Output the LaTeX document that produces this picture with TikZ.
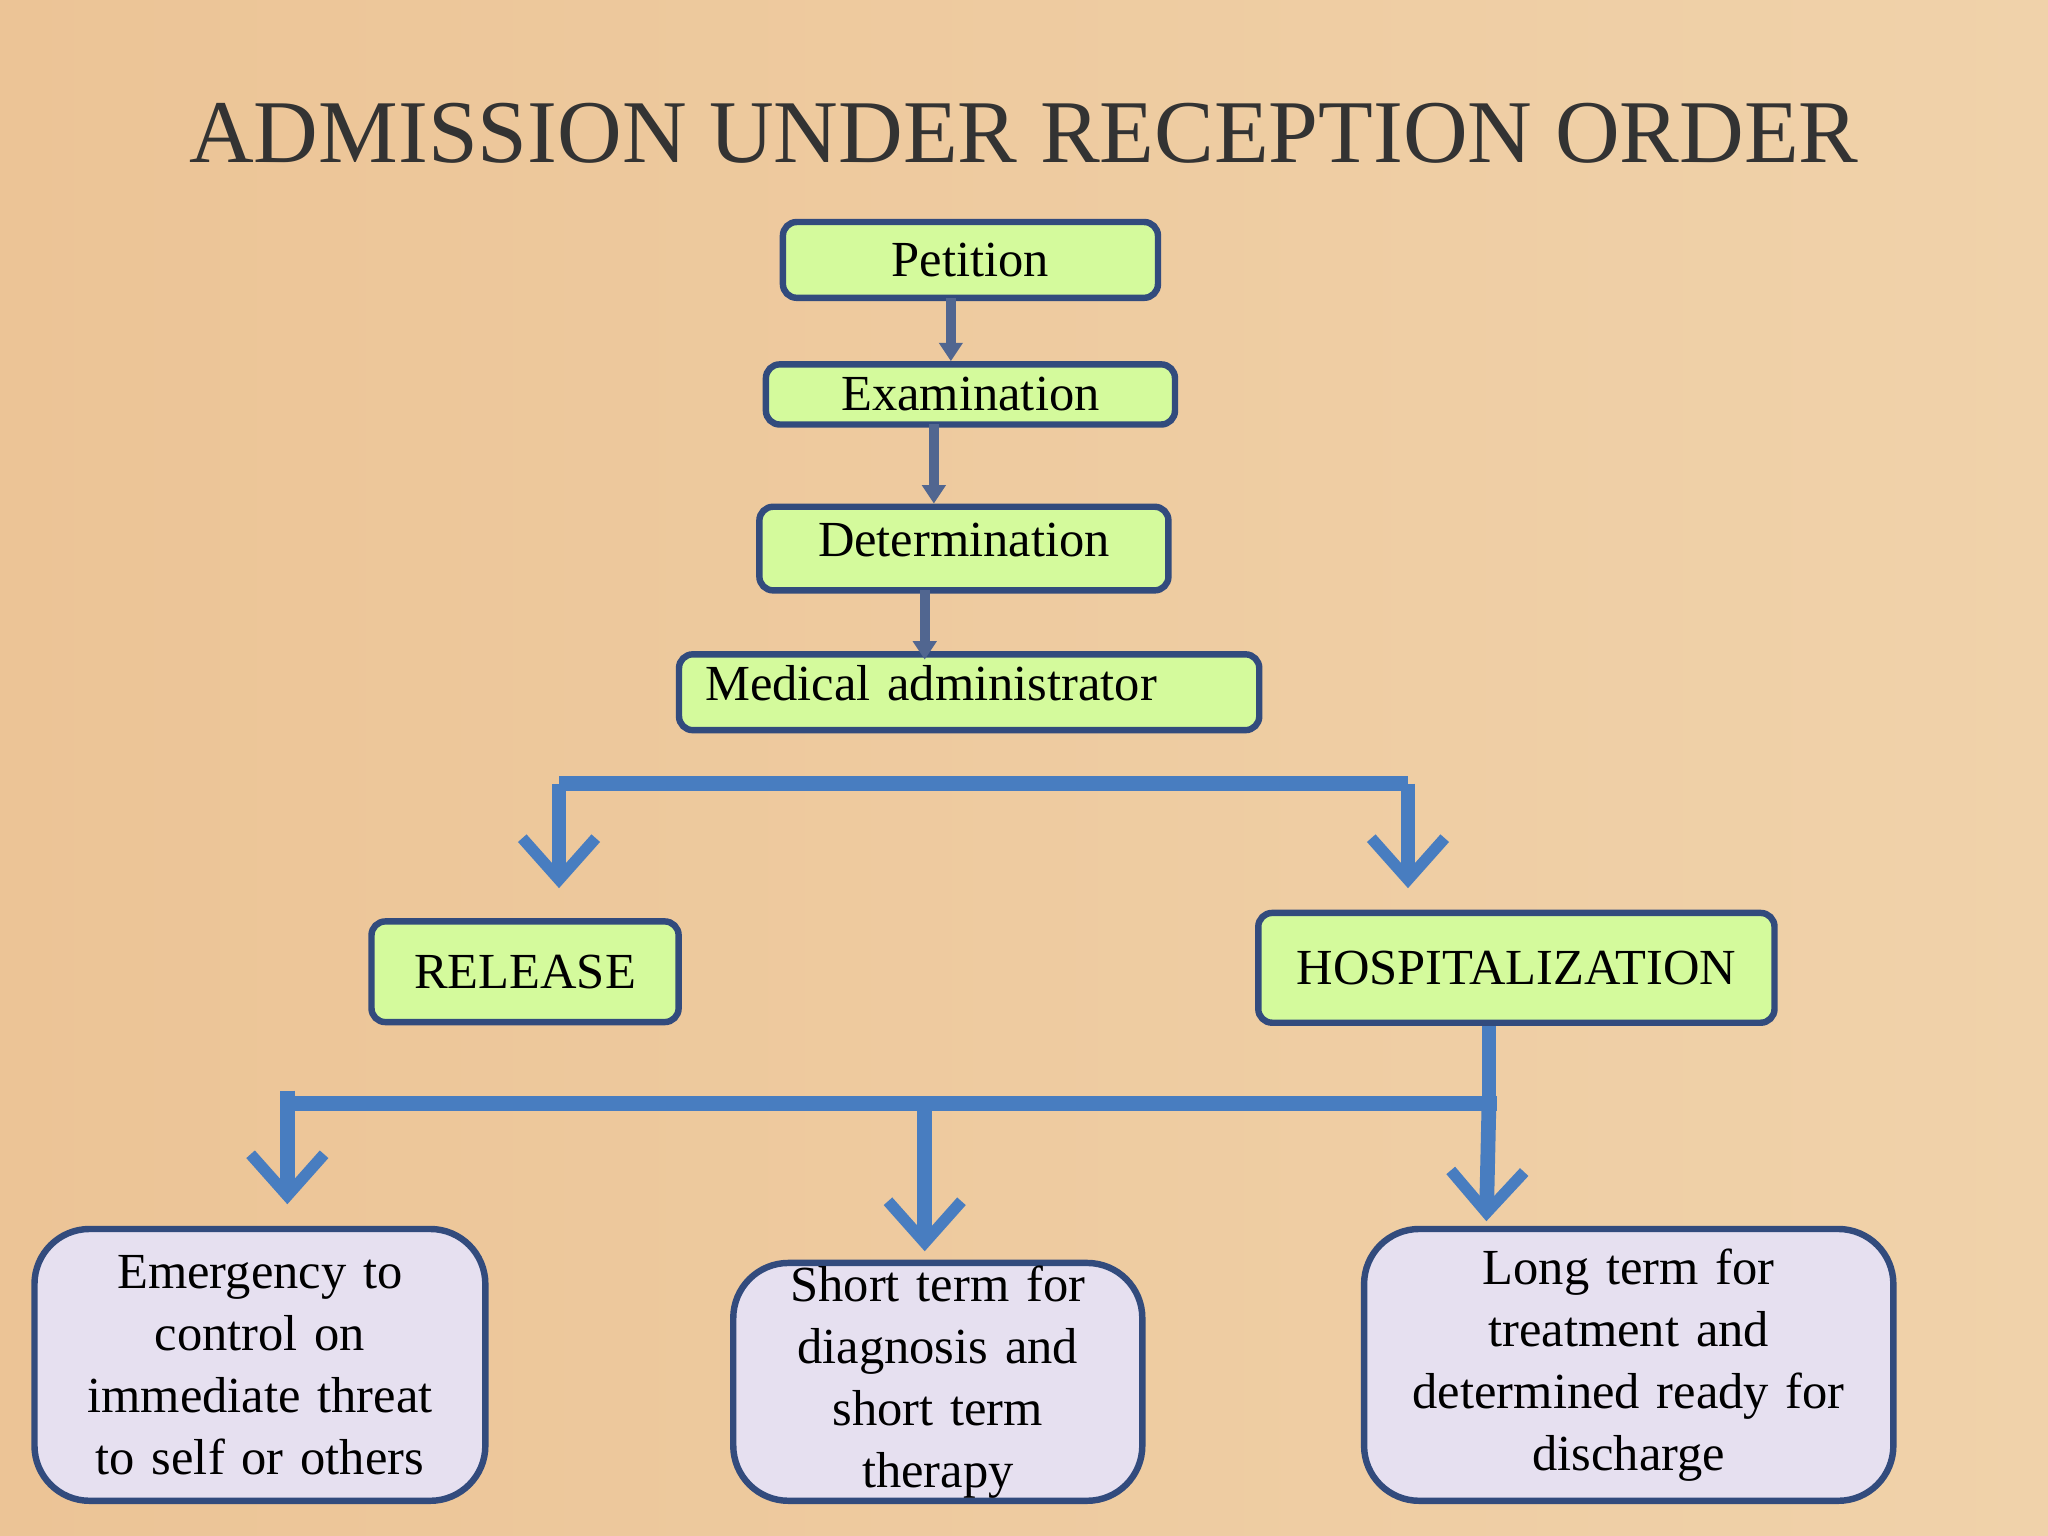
\documentclass[tikz,border=0pt]{standalone}
\usepackage{fontspec}
\setmainfont{Liberation Serif}
\usetikzlibrary{positioning, arrows.meta}
\definecolor{bgtan}{RGB}{236,196,150}
\definecolor{bglight}{RGB}{240,210,170}
\definecolor{boxgreen}{RGB}{212,250,156}
\definecolor{boxlav}{RGB}{230,224,240}
\definecolor{edgeblue}{RGB}{50,75,125}
\definecolor{lineblue}{RGB}{72,125,192}
\begin{document}
\begin{tikzpicture}[x=0.01cm, y=-0.01cm,
  stepbox/.style={draw=edgeblue, line width=1.4pt, rounded corners=3pt, fill=boxgreen, font=\fontsize{11}{12}\selectfont, inner sep=0pt},
  endbox/.style={draw=edgeblue, line width=1.4pt, rounded corners=12pt, fill=boxlav, font=\fontsize{11}{13.5}\selectfont, align=center, inner sep=0pt},
  smallarrow/.style={-{Triangle[length=4pt,width=5pt]}, line width=2.2pt, draw=edgeblue!85},
  bigarrow/.style={-{Straight Barb[length=9pt,width=16pt,line width=2.5pt]}, line width=3.2pt, draw=lineblue}
]
% background
\shade[left color=bgtan, right color=bglight] (0,0) rectangle (1568,1176);
\useasboundingbox (0,0) rectangle (1568,1176);
\node[font=\fontsize{19.5}{21}\selectfont, text=black!80] (title) at (784,102) {ADMISSION UNDER RECEPTION ORDER};

% top chain
\node[stepbox, text width=2.87cm, minimum height=0.58cm, align=center] (petition) at (743,199) {\raisebox{-3pt}{Petition}};
\node[stepbox, text width=3.13cm, minimum height=0.46cm, align=center] (exam) at (743,302) {\raisebox{-6pt}{Examination}};
\node[stepbox, text width=3.13cm, minimum height=0.64cm, align=center] (determ) at (738,420) {\raisebox{4pt}{Determination}};
\node[stepbox, text width=4.44cm, minimum height=0.58cm, align=left] (medadmin) at (742,530) {\hspace{0.2cm}\raisebox{4pt}{Medical administrator}};

\draw[smallarrow] (728,228) -- (exam.north -| 728,0);
\draw[smallarrow] (715,325) -- (determ.north -| 715,0);
\draw[smallarrow] (708,452) -- (708,505);

% outcomes
\node[stepbox, text width=2.35cm, minimum height=0.77cm, align=center] (release) at (402,744) {RELEASE};
\node[stepbox, text width=3.95cm, minimum height=0.84cm, align=center] (hosp) at (1161,741) {HOSPITALIZATION};

\coordinate (splitA) at (428,600);
\coordinate (splitB) at (1078,600);
\draw[line width=3.2pt, lineblue] (splitA) -- (splitB);
\draw[bigarrow] (splitA) -- (428,680);
\draw[bigarrow] (splitB) -- (1078,680);

% hospitalization branches
\node[endbox, text width=3.45cm, minimum height=2.08cm] (emerg) at (199,1045) {Emergency to\\control on\\immediate threat\\to self or others};
\node[endbox, text width=3.13cm, minimum height=1.82cm] (short) at (718,1058) {Short term for\\diagnosis and\\short term\\therapy};
\node[endbox, text width=4.05cm, minimum height=2.08cm] (long) at (1247,1045) {Long term for\\treatment and\\determined ready for\\discharge};

\coordinate (hub) at (1140,845);
\coordinate (left) at (220,845);
\draw[line width=3.2pt, lineblue] (left |- 0,835) -- (left) -- (1146,845);
\draw[line width=3.2pt, lineblue] (hosp.south -| hub) -- (hub);
\draw[bigarrow] (hub) -- (1138,935);
\draw[bigarrow] (left) -- (220,922);
\draw[bigarrow] (708,845) -- (708,958);
\end{tikzpicture}
\end{document}
